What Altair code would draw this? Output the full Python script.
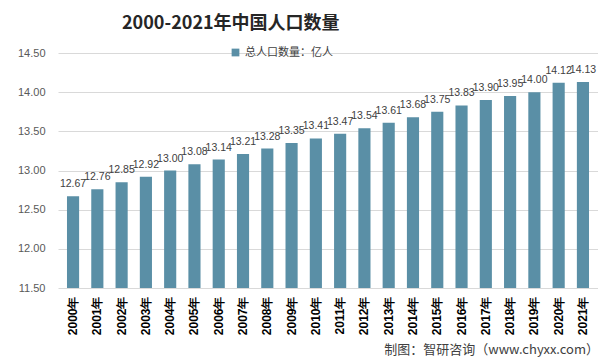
import altair as alt
import pandas as pd

years = [f"{y}年" for y in range(2000, 2022)]
values = [12.67, 12.76, 12.85, 12.92, 13.00, 13.08, 13.14, 13.21, 13.28, 13.35, 13.41,
          13.47, 13.54, 13.61, 13.68, 13.75, 13.83, 13.90, 13.95, 14.00, 14.12, 14.13]
series_name = "总人口数量：亿人"
y_domain = [11.5, 14.5]
y_ticks = [11.5, 12.0, 12.5, 13.0, 13.5, 14.0, 14.5]
footer = ["制图：智研咨询（www.chyxx.com）"]

df = pd.DataFrame({"year": years, "value": values, "series": series_name})
FONT = "Noto Sans CJK SC"
NUMFONT = "Liberation Sans"
BAR = "#5a8fa6"

x = alt.X("year:N", sort=years, title=None,
          scale=alt.Scale(paddingInner=0.5, paddingOuter=0.37),
          axis=alt.Axis(labelAngle=-90, labelAlign="right", labelBaseline="middle",
                        labelFontWeight="bold", labelFontSize=12, labelColor="#000000",
                        labelFont="Liberation Sans", ticks=False, domain=False,
                        labelPadding=8, labelOverlap=False))
y = alt.Y("value:Q", title=None,
          scale=alt.Scale(domain=y_domain, zero=False, nice=False),
          axis=alt.Axis(values=y_ticks, format=".2f", ticks=False, domain=False,
                        labelColor="#595959", labelFontSize=11, labelFont=NUMFONT,
                        labelOverlap=False, labelPadding=13,
                        gridColor="#d9d9d9", gridWidth=1))

bars = alt.Chart(df).mark_bar(color=BAR).encode(
    x=x, y=y, y2=alt.datum(y_domain[0]),
    color=alt.Color("series:N", scale=alt.Scale(range=[BAR]), title=None,
                    legend=alt.Legend(orient="none", legendX=172, legendY=-6,
                                      symbolType="square", symbolSize=60,
                                      symbolStrokeWidth=0,
                                      labelFontSize=11, labelColor="#404040",
                                      labelFont=FONT)))

labels = alt.Chart(df).mark_text(dy=-12, fontSize=10.5, color="#404040", font=NUMFONT).encode(
    x=x, y=y, text=alt.Text("value:Q", format=".2f"))

foot = alt.Chart(pd.DataFrame({"t": footer})).mark_text(
    align="right", baseline="middle", fontSize=13, color="#404040", font=FONT
).encode(x=alt.value(541), y=alt.value(297), text="t:N")

chart = alt.layer(bars, labels, foot).properties(
    width=540, height=235,
    autosize=alt.AutoSizeParams(type="none"),
    padding={"left": 50, "top": 45, "right": 0, "bottom": 72},
    background="white",
    title=alt.Title("2000-2021年中国人口数量", anchor="start", frame="group", dx=64,
                    offset=14, fontSize=18, fontWeight="bold", color="#262626", font=FONT),
).configure_view(stroke=None)

chart.save("out.html", embed_options={"renderer": "svg", "actions": False})
